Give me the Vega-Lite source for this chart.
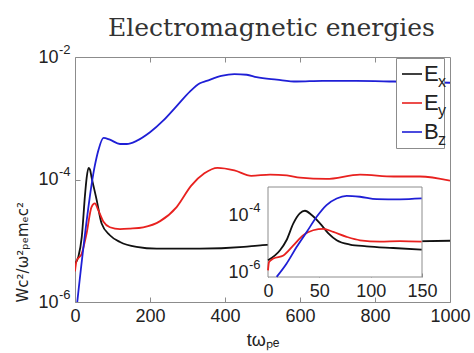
{
  "$schema": "https://vega.github.io/schema/vega-lite/v6.json",
  "width": 375,
  "height": 245,
  "autosize": {"type": "none"},
  "padding": {"left": 75, "top": 57, "right": 24, "bottom": 51},
  "background": "white",
  "title": {"text": "Electromagnetic energies", "font": "DejaVu Serif", "fontSize": 25, "fontWeight": "normal", "color": "#333333", "anchor": "middle", "frame": "group", "dx": 9, "baseline": "alphabetic", "offset": -18},
  "config": {
    "view": {"stroke": "#8c8c8c", "strokeWidth": 1},
    "axis": {"labelFont": "Liberation Sans", "titleFont": "Liberation Sans", "labelColor": "#222222", "titleColor": "#222222", "tickColor": "#8c8c8c", "grid": false, "domain": false, "labelFlush": false, "zindex": 1}
  },
  "datasets": {
    "main": [
      {"t": 0, "v": 4.27e-6, "series": "Ex", "sub": "x"},
      {"t": 9, "v": 5.5e-6, "series": "Ex", "sub": "x"},
      {"t": 18, "v": 1.15e-5, "series": "Ex", "sub": "x"},
      {"t": 27, "v": 5.89e-5, "series": "Ex", "sub": "x"},
      {"t": 31, "v": 1.05e-4, "series": "Ex", "sub": "x"},
      {"t": 36, "v": 1.55e-4, "series": "Ex", "sub": "x"},
      {"t": 40, "v": 1.45e-4, "series": "Ex", "sub": "x"},
      {"t": 44, "v": 1.1e-4, "series": "Ex", "sub": "x"},
      {"t": 58, "v": 4.57e-5, "series": "Ex", "sub": "x"},
      {"t": 71, "v": 1.91e-5, "series": "Ex", "sub": "x"},
      {"t": 93, "v": 1.23e-5, "series": "Ex", "sub": "x"},
      {"t": 120, "v": 9.55e-6, "series": "Ex", "sub": "x"},
      {"t": 164, "v": 7.94e-6, "series": "Ex", "sub": "x"},
      {"t": 218, "v": 7.41e-6, "series": "Ex", "sub": "x"},
      {"t": 333, "v": 7.41e-6, "series": "Ex", "sub": "x"},
      {"t": 450, "v": 7.94e-6, "series": "Ex", "sub": "x"},
      {"t": 500, "v": 8.51e-6, "series": "Ex", "sub": "x"},
      {"t": 700, "v": 9.12e-6, "series": "Ex", "sub": "x"},
      {"t": 900, "v": 9.77e-6, "series": "Ex", "sub": "x"},
      {"t": 1000, "v": 1.0e-5, "series": "Ex", "sub": "x"},
      {"t": 0, "v": 3.16e-6, "series": "Ey", "sub": "y"},
      {"t": 4, "v": 4.68e-6, "series": "Ey", "sub": "y"},
      {"t": 18, "v": 6.17e-6, "series": "Ey", "sub": "y"},
      {"t": 31, "v": 1.32e-5, "series": "Ey", "sub": "y"},
      {"t": 44, "v": 3.55e-5, "series": "Ey", "sub": "y"},
      {"t": 53, "v": 4.07e-5, "series": "Ey", "sub": "y"},
      {"t": 62, "v": 3.16e-5, "series": "Ey", "sub": "y"},
      {"t": 76, "v": 2.04e-5, "series": "Ey", "sub": "y"},
      {"t": 93, "v": 1.66e-5, "series": "Ey", "sub": "y"},
      {"t": 120, "v": 1.55e-5, "series": "Ey", "sub": "y"},
      {"t": 147, "v": 1.58e-5, "series": "Ey", "sub": "y"},
      {"t": 182, "v": 1.66e-5, "series": "Ey", "sub": "y"},
      {"t": 227, "v": 2.09e-5, "series": "Ey", "sub": "y"},
      {"t": 271, "v": 3.55e-5, "series": "Ey", "sub": "y"},
      {"t": 310, "v": 7.94e-5, "series": "Ey", "sub": "y"},
      {"t": 345, "v": 1.26e-4, "series": "Ey", "sub": "y"},
      {"t": 380, "v": 1.55e-4, "series": "Ey", "sub": "y"},
      {"t": 425, "v": 1.41e-4, "series": "Ey", "sub": "y"},
      {"t": 470, "v": 1.15e-4, "series": "Ey", "sub": "y"},
      {"t": 520, "v": 1.2e-4, "series": "Ey", "sub": "y"},
      {"t": 565, "v": 1.17e-4, "series": "Ey", "sub": "y"},
      {"t": 600, "v": 1.07e-4, "series": "Ey", "sub": "y"},
      {"t": 670, "v": 1.02e-4, "series": "Ey", "sub": "y"},
      {"t": 760, "v": 1.2e-4, "series": "Ey", "sub": "y"},
      {"t": 850, "v": 1.12e-4, "series": "Ey", "sub": "y"},
      {"t": 920, "v": 1.12e-4, "series": "Ey", "sub": "y"},
      {"t": 1000, "v": 9.55e-5, "series": "Ey", "sub": "y"},
      {"t": 6, "v": 1.0e-6, "series": "Bz", "sub": "z"},
      {"t": 53, "v": 1.7e-4, "series": "Bz", "sub": "z"},
      {"t": 62, "v": 2.95e-4, "series": "Bz", "sub": "z"},
      {"t": 76, "v": 4.79e-4, "series": "Bz", "sub": "z"},
      {"t": 93, "v": 4.47e-4, "series": "Bz", "sub": "z"},
      {"t": 120, "v": 3.8e-4, "series": "Bz", "sub": "z"},
      {"t": 138, "v": 3.8e-4, "series": "Bz", "sub": "z"},
      {"t": 164, "v": 4.27e-4, "series": "Bz", "sub": "z"},
      {"t": 200, "v": 5.89e-4, "series": "Bz", "sub": "z"},
      {"t": 235, "v": 9.12e-4, "series": "Bz", "sub": "z"},
      {"t": 271, "v": 1.58e-3, "series": "Bz", "sub": "z"},
      {"t": 307, "v": 2.75e-3, "series": "Bz", "sub": "z"},
      {"t": 333, "v": 3.72e-3, "series": "Bz", "sub": "z"},
      {"t": 351, "v": 4.07e-3, "series": "Bz", "sub": "z"},
      {"t": 390, "v": 4.9e-3, "series": "Bz", "sub": "z"},
      {"t": 425, "v": 5.25e-3, "series": "Bz", "sub": "z"},
      {"t": 458, "v": 5.13e-3, "series": "Bz", "sub": "z"},
      {"t": 484, "v": 4.68e-3, "series": "Bz", "sub": "z"},
      {"t": 538, "v": 4.27e-3, "series": "Bz", "sub": "z"},
      {"t": 591, "v": 3.98e-3, "series": "Bz", "sub": "z"},
      {"t": 660, "v": 4.07e-3, "series": "Bz", "sub": "z"},
      {"t": 750, "v": 4.07e-3, "series": "Bz", "sub": "z"},
      {"t": 850, "v": 3.98e-3, "series": "Bz", "sub": "z"},
      {"t": 1000, "v": 3.8e-3, "series": "Bz", "sub": "z"}
    ],
    "inset": [
      {"t": 0, "v": 2.75e-6, "series": "Ex"},
      {"t": 11.7, "v": 6.17e-6, "series": "Ex"},
      {"t": 18, "v": 1.38e-5, "series": "Ex"},
      {"t": 24.7, "v": 5.37e-5, "series": "Ex"},
      {"t": 31, "v": 1.2e-4, "series": "Ex"},
      {"t": 36, "v": 1.48e-4, "series": "Ex"},
      {"t": 42.5, "v": 1.05e-4, "series": "Ex"},
      {"t": 50.6, "v": 5.37e-5, "series": "Ex"},
      {"t": 58.8, "v": 2.4e-5, "series": "Ex"},
      {"t": 66.9, "v": 1.38e-5, "series": "Ex"},
      {"t": 79.8, "v": 9.77e-6, "series": "Ex"},
      {"t": 96, "v": 8.51e-6, "series": "Ex"},
      {"t": 122, "v": 7.41e-6, "series": "Ex"},
      {"t": 149.6, "v": 6.46e-6, "series": "Ex"},
      {"t": 0, "v": 1.23e-6, "series": "Ey"},
      {"t": 1, "v": 2.4e-6, "series": "Ey"},
      {"t": 5.2, "v": 3.16e-6, "series": "Ey"},
      {"t": 15, "v": 4.07e-6, "series": "Ey"},
      {"t": 24.7, "v": 9.12e-6, "series": "Ey"},
      {"t": 34.4, "v": 2.09e-5, "series": "Ey"},
      {"t": 44, "v": 3.09e-5, "series": "Ey"},
      {"t": 54, "v": 3.47e-5, "series": "Ey"},
      {"t": 63.6, "v": 2.69e-5, "series": "Ey"},
      {"t": 76.6, "v": 1.82e-5, "series": "Ey"},
      {"t": 89.6, "v": 1.38e-5, "series": "Ey"},
      {"t": 109, "v": 1.23e-5, "series": "Ey"},
      {"t": 128.5, "v": 1.29e-5, "series": "Ey"},
      {"t": 149.6, "v": 1.23e-5, "series": "Ey"},
      {"t": 8.4, "v": 7.24e-7, "series": "Bz"},
      {"t": 18, "v": 2.09e-6, "series": "Bz"},
      {"t": 28, "v": 8.13e-6, "series": "Bz"},
      {"t": 37.7, "v": 2.69e-5, "series": "Bz"},
      {"t": 47.4, "v": 9.12e-5, "series": "Bz"},
      {"t": 57, "v": 2.34e-4, "series": "Bz"},
      {"t": 66.9, "v": 3.98e-4, "series": "Bz"},
      {"t": 76.6, "v": 4.9e-4, "series": "Bz"},
      {"t": 89.6, "v": 4.57e-4, "series": "Bz"},
      {"t": 105.8, "v": 3.8e-4, "series": "Bz"},
      {"t": 128.5, "v": 3.72e-4, "series": "Bz"},
      {"t": 149.6, "v": 3.98e-4, "series": "Bz"}
    ]
  },
  "layer": [
    {
      "data": {"name": "main"},
      "layer": [
        {
          "mark": {"type": "line", "strokeWidth": 1.8, "clip": true, "interpolate": "monotone"},
          "encoding": {
            "x": {"field": "t", "type": "quantitative", "scale": {"domain": [0, 1000], "nice": false, "zero": false},
              "axis": {"orient": "bottom", "values": [0, 200, 400, 600, 800, 1000], "format": "d", "tickSize": -5, "labelPadding": 10, "labelFontSize": 18, "title": "tωₚₑ", "titleFontSize": 18, "titleFontWeight": "normal", "titlePadding": 6}},
            "y": {"field": "v", "type": "quantitative", "scale": {"type": "log", "domain": [1e-6, 1e-2], "nice": false},
              "axis": {"orient": "left", "values": [1e-6, 1e-4, 1e-2], "labelExpr": "'10'", "tickSize": -5, "labelPadding": 22, "labelFontSize": 18, "title": "\u2007\u2007\u2007\u2007\u2007\u00a0Wc²/ω²ₚₑmₑc²", "titleFont": "DejaVu Sans", "titleFontSize": 15, "titleFontWeight": "normal", "titleX": -53, "titleBaseline": "middle", "titleAnchor": "start", "titleAlign": "left"}},
            "color": {"field": "series", "type": "nominal", "scale": {"domain": ["Ex", "Ey", "Bz"], "range": ["#111111", "#e8211f", "#1f1fd6"]},
              "legend": {"orient": "none", "legendX": 321, "legendY": 1, "title": null, "fillColor": "white", "strokeColor": "#8c8c8c", "padding": 5, "symbolType": "stroke", "symbolSize": 400, "symbolStrokeWidth": 1.6, "labelFontSize": 22, "labelFont": "Liberation Sans", "labelColor": "#222222", "labelOffset": 1, "rowPadding": 7, "labelExpr": "datum.label == 'Bz' ? 'B  ' : 'E  '"}},
            "opacity": {"field": "sub", "type": "nominal", "scale": {"domain": ["x", "y", "z"], "range": [1, 1, 1]},
              "legend": {"orient": "none", "legendX": 347, "legendY": 17, "title": null, "padding": 0, "symbolSize": 4, "symbolStrokeWidth": 0, "symbolStrokeColor": "transparent", "symbolFillColor": "transparent", "labelFontSize": 16, "labelFont": "Liberation Sans", "labelColor": "#222222", "labelOffset": 0, "rowPadding": 13, "encode": {"symbols": {"update": {"opacity": {"value": 0}}}}}}
          }
        },
        {
          "mark": {"type": "line", "opacity": 0},
          "encoding": {
            "x": {"field": "t", "type": "quantitative", "axis": {"orient": "top", "values": [200, 400, 600, 800], "tickSize": -5, "labels": false, "title": null}},
            "y": {"field": "v", "type": "quantitative", "axis": {"orient": "left", "values": [1e-6, 1e-4, 1e-2], "labelExpr": "datum.value < 1e-5 ? '-6' : (datum.value < 1e-3 ? '-4' : '-2')", "ticks": false, "labelPadding": 5, "labelFontSize": 13, "labelOffset": -8, "title": null}},
            "detail": {"field": "series"}
          }
        }
      ],
      "resolve": {"axis": {"x": "independent", "y": "independent"}}
    },
    {
      "layer": [
        {
          "data": {"values": [{}]},
          "mark": {"type": "rect", "fill": "white", "stroke": "#8c8c8c", "strokeWidth": 1},
          "encoding": {
            "x": {"datum": 0, "type": "quantitative", "scale": {"domain": [0, 150], "range": [193, 347], "nice": false, "zero": false}, "axis": null},
            "x2": {"datum": 150},
            "y": {"datum": 7.2e-7, "type": "quantitative", "scale": {"type": "log", "domain": [7.2e-7, 1e-3], "range": [220, 130], "nice": false},
              "axis": {"orient": "left", "offset": -193, "values": [1e-6, 1e-4], "labelExpr": "'10'", "tickSize": -4, "labelPadding": 24, "labelFontSize": 18, "title": null}},
            "y2": {"datum": 1e-3}
          }
        },
        {
          "data": {"name": "inset"},
          "mark": {"type": "line", "strokeWidth": 1.8, "interpolate": "monotone"},
          "encoding": {
            "x": {"field": "t", "type": "quantitative", "axis": {"orient": "bottom", "offset": -25, "values": [0, 50, 100, 150], "tickSize": -4, "labelPadding": 9, "labelFontSize": 18, "title": null}},
            "y": {"field": "v", "type": "quantitative", "axis": null},
            "color": {"field": "series", "type": "nominal"}
          }
        },
        {
          "data": {"name": "inset"},
          "mark": {"type": "line", "opacity": 0},
          "encoding": {
            "x": {"field": "t", "type": "quantitative", "axis": null},
            "y": {"field": "v", "type": "quantitative", "axis": {"orient": "left", "offset": -193, "values": [1e-6, 1e-4], "labelExpr": "datum.value < 1e-5 ? '-6' : '-4'", "ticks": false, "labelPadding": 8, "labelFontSize": 13, "labelOffset": -8, "title": null}},
            "detail": {"field": "series"}
          }
        }
      ],
      "resolve": {"axis": {"x": "independent", "y": "independent"}}
    }
  ],
  "resolve": {"scale": {"x": "independent", "y": "independent"}}
}
